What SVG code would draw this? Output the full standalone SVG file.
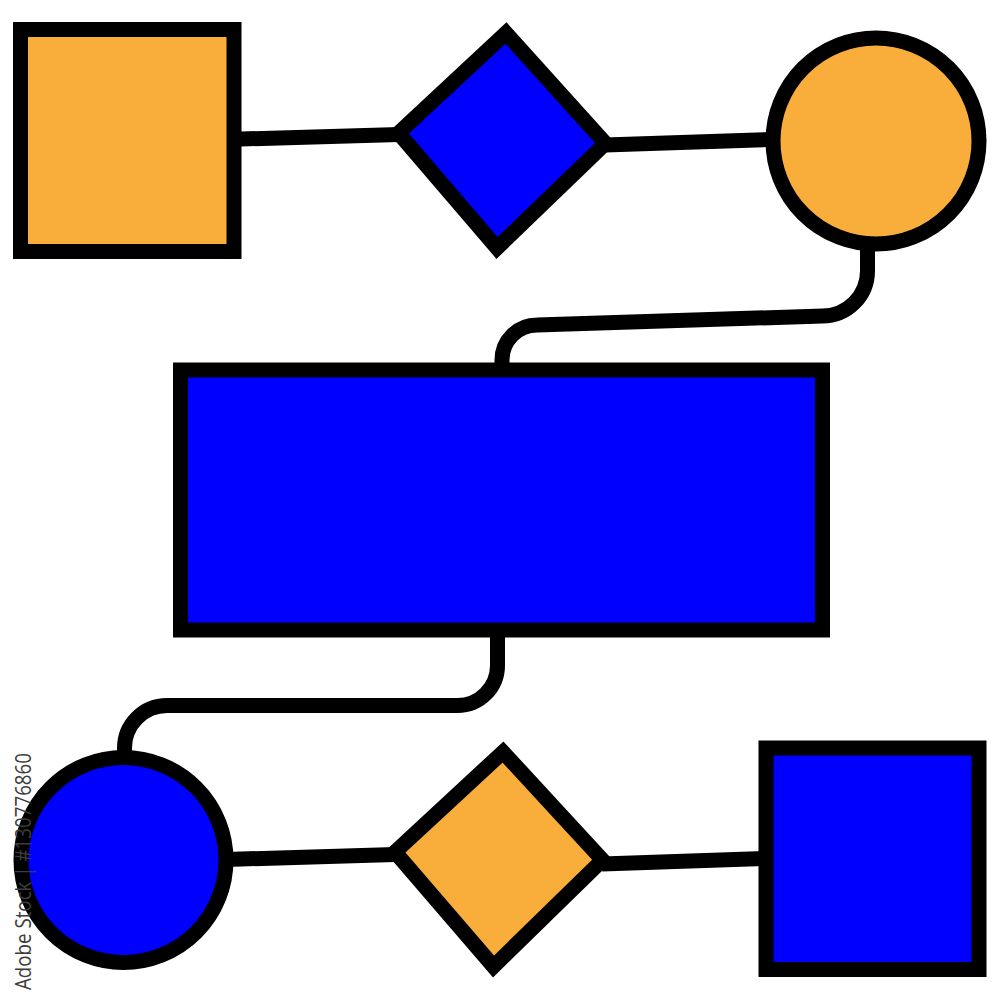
<svg xmlns="http://www.w3.org/2000/svg" width="1000" height="1000" viewBox="0 0 1000 1000">
  <style>
    .node { stroke: #000; stroke-width: 15; stroke-linejoin: miter; }
    .orange { fill: #F9AE3B; }
    .blue { fill: #0000FF; }
    .conn { fill: none; stroke: #000; stroke-width: 15; }
    .stamp { font-family: "Open Sans", "Liberation Sans", sans-serif; font-size: 21px; fill: #3c3c3c; }
  </style>
  <rect width="1000" height="1000" fill="#fff"/>
  <g id="connectors">
    <path class="conn" d="M234,139.2 L399,134.5"/>
    <path class="conn" d="M605,145 L773,139.5"/>
    <path class="conn" d="M867.5,240 V271 A45,45 0 0 1 822.5,316 L537,325 A35,35 0 0 0 502,360 V372"/>
    <path class="conn" d="M497.5,628 V665.5 A40,40 0 0 1 457.5,705.5 H167 A42.5,42.5 0 0 0 124.5,748 V760"/>
    <path class="conn" d="M226,859.5 L395,854.5"/>
    <path class="conn" d="M602,864 L766,858.5"/>
  </g>
  <g id="node-square-top">
    <rect class="node orange" x="20.5" y="29.5" width="213.5" height="222"/>
  </g>
  <g id="node-diamond-top">
    <polygon class="node blue" points="506,33 605.5,143.5 497,248 398.5,133"/>
  </g>
  <g id="node-circle-top">
    <circle class="node orange" cx="876" cy="141" r="103"/>
  </g>
  <g id="node-rect-middle">
    <rect class="node blue" x="180.5" y="370" width="642" height="260"/>
  </g>
  <g id="node-circle-bottom">
    <circle class="node blue" cx="123.5" cy="860" r="102.5"/>
  </g>
  <g id="node-diamond-bottom">
    <polygon class="node orange" points="503,752 602.5,860 493.5,966.5 395,852"/>
  </g>
  <g id="node-square-bottom">
    <rect class="node blue" x="766" y="748" width="213" height="221.5"/>
  </g>
  <text class="stamp" transform="translate(31,990) rotate(-90)" textLength="237" lengthAdjust="spacingAndGlyphs">Adobe Stock | #130776860</text>
</svg>
